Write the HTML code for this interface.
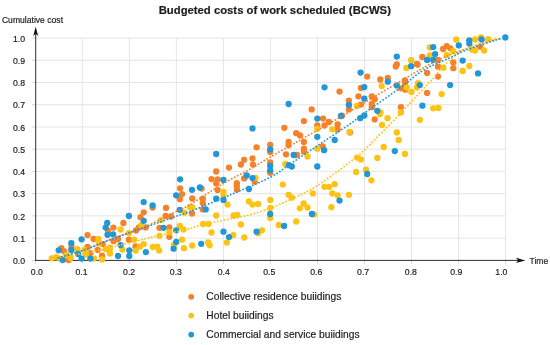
<!DOCTYPE html>
<html><head><meta charset="utf-8"><style>
html,body{margin:0;padding:0;background:#fff;}
svg{display:block}
text{font-family:"Liberation Sans",Arial,sans-serif;fill:#1c1c1c;stroke:#1c1c1c;stroke-width:0.18px}
</style></head><body>
<svg width="550" height="345" viewBox="0 0 550 345">
<rect width="550" height="345" fill="#fff"/>
<g stroke="#e2e2e2" stroke-width="0.9"><line x1="82.3" y1="38.0" x2="82.3" y2="260.4"/><line x1="35.3" y1="238.2" x2="505.6" y2="238.2"/><line x1="129.4" y1="38.0" x2="129.4" y2="260.4"/><line x1="35.3" y1="215.9" x2="505.6" y2="215.9"/><line x1="176.4" y1="38.0" x2="176.4" y2="260.4"/><line x1="35.3" y1="193.7" x2="505.6" y2="193.7"/><line x1="223.4" y1="38.0" x2="223.4" y2="260.4"/><line x1="35.3" y1="171.4" x2="505.6" y2="171.4"/><line x1="270.4" y1="38.0" x2="270.4" y2="260.4"/><line x1="35.3" y1="149.2" x2="505.6" y2="149.2"/><line x1="317.5" y1="38.0" x2="317.5" y2="260.4"/><line x1="35.3" y1="127.0" x2="505.6" y2="127.0"/><line x1="364.5" y1="38.0" x2="364.5" y2="260.4"/><line x1="35.3" y1="104.7" x2="505.6" y2="104.7"/><line x1="411.5" y1="38.0" x2="411.5" y2="260.4"/><line x1="35.3" y1="82.5" x2="505.6" y2="82.5"/><line x1="458.6" y1="38.0" x2="458.6" y2="260.4"/><line x1="35.3" y1="60.2" x2="505.6" y2="60.2"/><line x1="505.6" y1="38.0" x2="505.6" y2="260.4"/><line x1="35.3" y1="38.0" x2="505.6" y2="38.0"/></g>
<g stroke="#d0d0d0" stroke-width="0.9"><line x1="31.799999999999997" y1="260.4" x2="35.3" y2="260.4"/><line x1="35.3" y1="260.4" x2="35.3" y2="263.9"/><line x1="31.799999999999997" y1="238.2" x2="35.3" y2="238.2"/><line x1="82.3" y1="260.4" x2="82.3" y2="263.9"/><line x1="31.799999999999997" y1="215.9" x2="35.3" y2="215.9"/><line x1="129.4" y1="260.4" x2="129.4" y2="263.9"/><line x1="31.799999999999997" y1="193.7" x2="35.3" y2="193.7"/><line x1="176.4" y1="260.4" x2="176.4" y2="263.9"/><line x1="31.799999999999997" y1="171.4" x2="35.3" y2="171.4"/><line x1="223.4" y1="260.4" x2="223.4" y2="263.9"/><line x1="31.799999999999997" y1="149.2" x2="35.3" y2="149.2"/><line x1="270.4" y1="260.4" x2="270.4" y2="263.9"/><line x1="31.799999999999997" y1="127.0" x2="35.3" y2="127.0"/><line x1="317.5" y1="260.4" x2="317.5" y2="263.9"/><line x1="31.799999999999997" y1="104.7" x2="35.3" y2="104.7"/><line x1="364.5" y1="260.4" x2="364.5" y2="263.9"/><line x1="31.799999999999997" y1="82.5" x2="35.3" y2="82.5"/><line x1="411.5" y1="260.4" x2="411.5" y2="263.9"/><line x1="31.799999999999997" y1="60.2" x2="35.3" y2="60.2"/><line x1="458.6" y1="260.4" x2="458.6" y2="263.9"/><line x1="31.799999999999997" y1="38.0" x2="35.3" y2="38.0"/><line x1="505.6" y1="260.4" x2="505.6" y2="263.9"/></g>
<g stroke="#222" stroke-width="0.95" fill="none"><line x1="35.7" y1="260.84999999999997" x2="35.7" y2="33"/><line x1="35.25" y1="260.4" x2="519" y2="260.4"/></g>
<path d="M35.7 26.8 L38.2 36 L35.7 33.8 L33.2 36 Z" fill="#111"/>
<path d="M525.3 260.4 L516 257.79999999999995 L518.2 260.4 L516 263.0 Z" fill="#111"/>
<g fill="#f5822a"><circle cx="87.5" cy="235.1" r="3.15"/><circle cx="93.6" cy="239.0" r="3.15"/><circle cx="61.3" cy="248.2" r="3.15"/><circle cx="64.2" cy="251.4" r="3.15"/><circle cx="87.5" cy="247.0" r="3.15"/><circle cx="71.5" cy="246.3" r="3.15"/><circle cx="102.7" cy="244.1" r="3.15"/><circle cx="97.6" cy="249.9" r="3.15"/><circle cx="90.4" cy="253.1" r="3.15"/><circle cx="102.0" cy="255.7" r="3.15"/><circle cx="68.5" cy="260.0" r="3.15"/><circle cx="108.0" cy="231.0" r="3.15"/><circle cx="123.4" cy="223.0" r="3.15"/><circle cx="113.4" cy="227.6" r="3.15"/><circle cx="140.5" cy="217.2" r="3.15"/><circle cx="136.0" cy="230.5" r="3.15"/><circle cx="145.6" cy="227.4" r="3.15"/><circle cx="139.0" cy="227.4" r="3.15"/><circle cx="128.9" cy="239.7" r="3.15"/><circle cx="113.6" cy="241.2" r="3.15"/><circle cx="118.0" cy="239.0" r="3.15"/><circle cx="135.5" cy="246.3" r="3.15"/><circle cx="159.5" cy="227.8" r="3.15"/><circle cx="169.3" cy="227.4" r="3.15"/><circle cx="169.3" cy="236.8" r="3.15"/><circle cx="165.6" cy="216.0" r="3.15"/><circle cx="171.0" cy="216.5" r="3.15"/><circle cx="180.1" cy="188.3" r="3.15"/><circle cx="182.0" cy="194.1" r="3.15"/><circle cx="179.8" cy="199.2" r="3.15"/><circle cx="166.0" cy="207.9" r="3.15"/><circle cx="152.6" cy="207.5" r="3.15"/><circle cx="143.7" cy="212.3" r="3.15"/><circle cx="216.2" cy="171.5" r="3.15"/><circle cx="229.0" cy="167.6" r="3.15"/><circle cx="240.9" cy="164.5" r="3.15"/><circle cx="253.0" cy="164.5" r="3.15"/><circle cx="211.5" cy="179.1" r="3.15"/><circle cx="217.6" cy="179.5" r="3.15"/><circle cx="216.2" cy="183.6" r="3.15"/><circle cx="217.6" cy="190.0" r="3.15"/><circle cx="201.6" cy="188.6" r="3.15"/><circle cx="192.2" cy="198.5" r="3.15"/><circle cx="202.8" cy="198.7" r="3.15"/><circle cx="202.8" cy="203.1" r="3.15"/><circle cx="202.8" cy="209.4" r="3.15"/><circle cx="236.8" cy="183.2" r="3.15"/><circle cx="236.8" cy="186.1" r="3.15"/><circle cx="236.8" cy="189.4" r="3.15"/><circle cx="244.1" cy="178.4" r="3.15"/><circle cx="254.7" cy="181.7" r="3.15"/><circle cx="192.0" cy="213.5" r="3.15"/><circle cx="256.6" cy="147.3" r="3.15"/><circle cx="244.1" cy="159.8" r="3.15"/><circle cx="252.5" cy="158.3" r="3.15"/><circle cx="270.2" cy="144.8" r="3.15"/><circle cx="270.2" cy="152.0" r="3.15"/><circle cx="270.2" cy="162.4" r="3.15"/><circle cx="270.2" cy="172.8" r="3.15"/><circle cx="303.9" cy="121.1" r="3.15"/><circle cx="284.3" cy="127.8" r="3.15"/><circle cx="296.2" cy="133.2" r="3.15"/><circle cx="300.1" cy="135.4" r="3.15"/><circle cx="288.6" cy="141.9" r="3.15"/><circle cx="288.6" cy="145.3" r="3.15"/><circle cx="303.9" cy="141.9" r="3.15"/><circle cx="303.9" cy="148.7" r="3.15"/><circle cx="303.9" cy="151.7" r="3.15"/><circle cx="286.0" cy="154.3" r="3.15"/><circle cx="296.9" cy="155.0" r="3.15"/><circle cx="323.1" cy="118.6" r="3.15"/><circle cx="328.9" cy="122.0" r="3.15"/><circle cx="324.5" cy="125.5" r="3.15"/><circle cx="317.3" cy="125.5" r="3.15"/><circle cx="337.6" cy="124.5" r="3.15"/><circle cx="337.6" cy="129.5" r="3.15"/><circle cx="322.7" cy="146.3" r="3.15"/><circle cx="342.0" cy="115.7" r="3.15"/><circle cx="339.5" cy="91.6" r="3.15"/><circle cx="311.7" cy="109.4" r="3.15"/><circle cx="348.9" cy="100.6" r="3.15"/><circle cx="348.9" cy="109.4" r="3.15"/><circle cx="374.7" cy="119.4" r="3.15"/><circle cx="350.0" cy="132.5" r="3.15"/><circle cx="367.2" cy="76.6" r="3.15"/><circle cx="380.3" cy="79.5" r="3.15"/><circle cx="387.8" cy="77.8" r="3.15"/><circle cx="395.8" cy="66.5" r="3.15"/><circle cx="360.9" cy="88.0" r="3.15"/><circle cx="358.4" cy="96.3" r="3.15"/><circle cx="360.9" cy="104.6" r="3.15"/><circle cx="371.8" cy="96.3" r="3.15"/><circle cx="374.7" cy="99.2" r="3.15"/><circle cx="371.8" cy="104.0" r="3.15"/><circle cx="371.8" cy="107.2" r="3.15"/><circle cx="405.0" cy="80.3" r="3.15"/><circle cx="405.0" cy="83.5" r="3.15"/><circle cx="400.9" cy="88.3" r="3.15"/><circle cx="405.3" cy="89.7" r="3.15"/><circle cx="400.9" cy="107.2" r="3.15"/><circle cx="427.1" cy="73.0" r="3.15"/><circle cx="427.1" cy="92.9" r="3.15"/><circle cx="417.6" cy="64.5" r="3.15"/><circle cx="396.8" cy="64.3" r="3.15"/><circle cx="416.9" cy="64.0" r="3.15"/><circle cx="422.3" cy="57.0" r="3.15"/><circle cx="438.0" cy="76.6" r="3.15"/><circle cx="453.3" cy="68.2" r="3.15"/><circle cx="438.0" cy="66.7" r="3.15"/><circle cx="443.1" cy="49.0" r="3.15"/><circle cx="446.7" cy="46.1" r="3.15"/><circle cx="450.4" cy="48.3" r="3.15"/><circle cx="438.0" cy="59.9" r="3.15"/><circle cx="453.3" cy="62.5" r="3.15"/><circle cx="480.2" cy="46.8" r="3.15"/></g>
<g fill="#fbc313"><circle cx="51.8" cy="258.3" r="3.15"/><circle cx="56.2" cy="257.2" r="3.15"/><circle cx="59.8" cy="258.6" r="3.15"/><circle cx="66.4" cy="255.0" r="3.15"/><circle cx="70.7" cy="257.9" r="3.15"/><circle cx="77.3" cy="249.2" r="3.15"/><circle cx="84.5" cy="249.9" r="3.15"/><circle cx="86.0" cy="254.3" r="3.15"/><circle cx="98.4" cy="239.0" r="3.15"/><circle cx="99.0" cy="243.4" r="3.15"/><circle cx="94.0" cy="258.6" r="3.15"/><circle cx="102.0" cy="259.4" r="3.15"/><circle cx="105.6" cy="249.2" r="3.15"/><circle cx="109.3" cy="250.0" r="3.15"/><circle cx="120.6" cy="229.5" r="3.15"/><circle cx="128.9" cy="233.2" r="3.15"/><circle cx="134.0" cy="239.7" r="3.15"/><circle cx="110.0" cy="247.7" r="3.15"/><circle cx="110.0" cy="253.5" r="3.15"/><circle cx="122.4" cy="249.6" r="3.15"/><circle cx="135.5" cy="250.6" r="3.15"/><circle cx="139.8" cy="246.7" r="3.15"/><circle cx="143.7" cy="244.1" r="3.15"/><circle cx="141.3" cy="225.2" r="3.15"/><circle cx="152.9" cy="247.0" r="3.15"/><circle cx="157.3" cy="246.7" r="3.15"/><circle cx="159.2" cy="250.6" r="3.15"/><circle cx="159.5" cy="235.8" r="3.15"/><circle cx="160.9" cy="220.1" r="3.15"/><circle cx="169.3" cy="232.2" r="3.15"/><circle cx="179.8" cy="225.9" r="3.15"/><circle cx="183.5" cy="229.5" r="3.15"/><circle cx="182.0" cy="239.7" r="3.15"/><circle cx="183.9" cy="248.2" r="3.15"/><circle cx="174.0" cy="244.8" r="3.15"/><circle cx="184.5" cy="212.7" r="3.15"/><circle cx="190.0" cy="207.0" r="3.15"/><circle cx="192.2" cy="245.5" r="3.15"/><circle cx="203.1" cy="224.0" r="3.15"/><circle cx="208.6" cy="224.0" r="3.15"/><circle cx="211.5" cy="232.5" r="3.15"/><circle cx="208.2" cy="242.3" r="3.15"/><circle cx="209.6" cy="245.3" r="3.15"/><circle cx="216.2" cy="215.5" r="3.15"/><circle cx="233.3" cy="235.1" r="3.15"/><circle cx="226.8" cy="242.6" r="3.15"/><circle cx="240.9" cy="224.5" r="3.15"/><circle cx="244.3" cy="237.5" r="3.15"/><circle cx="262.0" cy="230.3" r="3.15"/><circle cx="258.0" cy="233.2" r="3.15"/><circle cx="233.6" cy="215.5" r="3.15"/><circle cx="237.3" cy="215.0" r="3.15"/><circle cx="270.2" cy="218.0" r="3.15"/><circle cx="223.5" cy="191.9" r="3.15"/><circle cx="223.5" cy="195.5" r="3.15"/><circle cx="227.5" cy="204.6" r="3.15"/><circle cx="192.2" cy="207.2" r="3.15"/><circle cx="248.9" cy="201.4" r="3.15"/><circle cx="252.5" cy="204.6" r="3.15"/><circle cx="258.1" cy="204.0" r="3.15"/><circle cx="255.5" cy="177.8" r="3.15"/><circle cx="270.3" cy="199.9" r="3.15"/><circle cx="270.3" cy="207.9" r="3.15"/><circle cx="278.7" cy="224.9" r="3.15"/><circle cx="296.2" cy="221.5" r="3.15"/><circle cx="314.0" cy="214.5" r="3.15"/><circle cx="282.8" cy="184.6" r="3.15"/><circle cx="288.6" cy="194.8" r="3.15"/><circle cx="291.8" cy="197.7" r="3.15"/><circle cx="312.9" cy="193.4" r="3.15"/><circle cx="303.7" cy="203.5" r="3.15"/><circle cx="299.8" cy="208.3" r="3.15"/><circle cx="307.5" cy="207.5" r="3.15"/><circle cx="324.5" cy="186.8" r="3.15"/><circle cx="329.3" cy="186.8" r="3.15"/><circle cx="334.7" cy="184.2" r="3.15"/><circle cx="332.3" cy="193.4" r="3.15"/><circle cx="337.6" cy="195.3" r="3.15"/><circle cx="331.4" cy="207.2" r="3.15"/><circle cx="349.0" cy="194.8" r="3.15"/><circle cx="285.3" cy="164.0" r="3.15"/><circle cx="317.3" cy="128.8" r="3.15"/><circle cx="332.3" cy="129.3" r="3.15"/><circle cx="317.3" cy="148.7" r="3.15"/><circle cx="307.5" cy="156.5" r="3.15"/><circle cx="349.5" cy="132.0" r="3.15"/><circle cx="356.1" cy="172.0" r="3.15"/><circle cx="366.0" cy="169.7" r="3.15"/><circle cx="371.4" cy="180.3" r="3.15"/><circle cx="387.5" cy="118.2" r="3.15"/><circle cx="382.0" cy="124.9" r="3.15"/><circle cx="396.8" cy="132.5" r="3.15"/><circle cx="398.7" cy="140.0" r="3.15"/><circle cx="383.7" cy="147.0" r="3.15"/><circle cx="405.0" cy="154.0" r="3.15"/><circle cx="377.3" cy="157.9" r="3.15"/><circle cx="357.0" cy="157.6" r="3.15"/><circle cx="360.9" cy="159.4" r="3.15"/><circle cx="419.8" cy="119.8" r="3.15"/><circle cx="379.8" cy="114.0" r="3.15"/><circle cx="400.9" cy="112.5" r="3.15"/><circle cx="381.7" cy="86.1" r="3.15"/><circle cx="357.0" cy="106.0" r="3.15"/><circle cx="406.4" cy="68.0" r="3.15"/><circle cx="406.7" cy="87.5" r="3.15"/><circle cx="411.4" cy="91.9" r="3.15"/><circle cx="418.1" cy="83.2" r="3.15"/><circle cx="416.9" cy="87.5" r="3.15"/><circle cx="380.5" cy="112.3" r="3.15"/><circle cx="411.1" cy="60.2" r="3.15"/><circle cx="429.8" cy="47.5" r="3.15"/><circle cx="429.8" cy="55.5" r="3.15"/><circle cx="462.7" cy="71.1" r="3.15"/><circle cx="469.3" cy="66.0" r="3.15"/><circle cx="441.6" cy="94.1" r="3.15"/><circle cx="433.2" cy="108.3" r="3.15"/><circle cx="438.4" cy="107.9" r="3.15"/><circle cx="443.4" cy="67.7" r="3.15"/><circle cx="456.2" cy="39.5" r="3.15"/><circle cx="453.0" cy="50.9" r="3.15"/><circle cx="446.7" cy="54.8" r="3.15"/><circle cx="475.1" cy="39.5" r="3.15"/><circle cx="480.9" cy="37.4" r="3.15"/><circle cx="488.2" cy="39.1" r="3.15"/><circle cx="472.2" cy="49.7" r="3.15"/><circle cx="475.1" cy="50.5" r="3.15"/><circle cx="484.1" cy="50.5" r="3.15"/><circle cx="462.7" cy="70.8" r="3.15"/></g>
<g fill="#2297d6"><circle cx="58.7" cy="250.3" r="3.15"/><circle cx="71.3" cy="243.1" r="3.15"/><circle cx="71.3" cy="249.9" r="3.15"/><circle cx="81.6" cy="239.3" r="3.15"/><circle cx="62.7" cy="260.1" r="3.15"/><circle cx="81.6" cy="258.6" r="3.15"/><circle cx="78.0" cy="254.0" r="3.15"/><circle cx="90.4" cy="258.6" r="3.15"/><circle cx="107.2" cy="223.0" r="3.15"/><circle cx="105.7" cy="227.6" r="3.15"/><circle cx="107.5" cy="234.8" r="3.15"/><circle cx="113.1" cy="234.3" r="3.15"/><circle cx="128.9" cy="216.0" r="3.15"/><circle cx="143.7" cy="220.8" r="3.15"/><circle cx="120.6" cy="245.1" r="3.15"/><circle cx="118.0" cy="256.0" r="3.15"/><circle cx="129.3" cy="250.3" r="3.15"/><circle cx="129.3" cy="256.0" r="3.15"/><circle cx="145.9" cy="252.1" r="3.15"/><circle cx="163.5" cy="227.8" r="3.15"/><circle cx="176.2" cy="230.3" r="3.15"/><circle cx="176.2" cy="241.9" r="3.15"/><circle cx="173.6" cy="248.7" r="3.15"/><circle cx="180.1" cy="179.3" r="3.15"/><circle cx="176.2" cy="195.3" r="3.15"/><circle cx="143.7" cy="202.1" r="3.15"/><circle cx="152.6" cy="205.3" r="3.15"/><circle cx="179.8" cy="209.8" r="3.15"/><circle cx="192.0" cy="189.8" r="3.15"/><circle cx="223.5" cy="231.7" r="3.15"/><circle cx="229.0" cy="237.1" r="3.15"/><circle cx="201.2" cy="243.8" r="3.15"/><circle cx="256.6" cy="231.7" r="3.15"/><circle cx="199.9" cy="187.5" r="3.15"/><circle cx="205.7" cy="209.4" r="3.15"/><circle cx="216.2" cy="198.7" r="3.15"/><circle cx="223.5" cy="199.9" r="3.15"/><circle cx="223.5" cy="180.0" r="3.15"/><circle cx="246.7" cy="175.5" r="3.15"/><circle cx="252.5" cy="178.1" r="3.15"/><circle cx="248.9" cy="189.0" r="3.15"/><circle cx="270.2" cy="165.8" r="3.15"/><circle cx="270.2" cy="170.3" r="3.15"/><circle cx="270.2" cy="214.0" r="3.15"/><circle cx="252.5" cy="128.4" r="3.15"/><circle cx="216.2" cy="154.0" r="3.15"/><circle cx="270.2" cy="149.4" r="3.15"/><circle cx="284.1" cy="225.9" r="3.15"/><circle cx="311.9" cy="214.0" r="3.15"/><circle cx="288.9" cy="165.2" r="3.15"/><circle cx="291.8" cy="166.5" r="3.15"/><circle cx="317.3" cy="166.5" r="3.15"/><circle cx="339.5" cy="200.6" r="3.15"/><circle cx="317.3" cy="118.6" r="3.15"/><circle cx="317.3" cy="136.8" r="3.15"/><circle cx="334.7" cy="140.0" r="3.15"/><circle cx="324.1" cy="150.2" r="3.15"/><circle cx="293.7" cy="155.0" r="3.15"/><circle cx="341.0" cy="116.0" r="3.15"/><circle cx="324.5" cy="87.3" r="3.15"/><circle cx="288.6" cy="104.0" r="3.15"/><circle cx="348.9" cy="105.0" r="3.15"/><circle cx="367.2" cy="174.0" r="3.15"/><circle cx="360.2" cy="118.2" r="3.15"/><circle cx="364.3" cy="115.5" r="3.15"/><circle cx="394.8" cy="151.1" r="3.15"/><circle cx="360.6" cy="72.6" r="3.15"/><circle cx="364.3" cy="87.1" r="3.15"/><circle cx="364.3" cy="98.7" r="3.15"/><circle cx="377.3" cy="110.8" r="3.15"/><circle cx="387.8" cy="81.7" r="3.15"/><circle cx="396.8" cy="85.4" r="3.15"/><circle cx="411.1" cy="66.2" r="3.15"/><circle cx="419.8" cy="85.1" r="3.15"/><circle cx="422.4" cy="105.7" r="3.15"/><circle cx="396.8" cy="56.6" r="3.15"/><circle cx="427.1" cy="59.9" r="3.15"/><circle cx="478.0" cy="73.4" r="3.15"/><circle cx="450.1" cy="85.1" r="3.15"/><circle cx="505.3" cy="37.4" r="3.15"/><circle cx="433.2" cy="47.1" r="3.15"/><circle cx="435.1" cy="54.1" r="3.15"/><circle cx="433.2" cy="59.9" r="3.15"/><circle cx="458.8" cy="45.4" r="3.15"/><circle cx="469.3" cy="40.3" r="3.15"/><circle cx="469.3" cy="43.6" r="3.15"/><circle cx="481.6" cy="39.5" r="3.15"/><circle cx="462.7" cy="60.6" r="3.15"/></g>
<path d="M56.0 258.5 C59.7 257.4 69.0 255.1 78.0 252.0 C87.0 248.9 101.3 243.1 110.0 239.8 C118.7 236.5 123.8 234.6 130.0 232.3 C136.2 230.0 140.2 229.2 147.3 226.0 C154.4 222.8 166.0 216.5 172.7 213.2 C179.4 209.9 183.1 208.6 187.3 206.3 C191.6 204.0 192.0 203.4 198.2 199.5 C204.3 195.6 215.4 188.2 224.2 183.0 C233.0 177.8 243.5 172.9 251.1 168.6 C258.7 164.3 255.0 165.9 270.0 157.2 C285.0 148.5 323.4 126.9 341.3 116.5 C359.2 106.1 365.3 102.1 377.6 94.8 C389.9 87.5 406.7 77.4 415.0 72.6 C423.3 67.8 422.9 68.0 427.2 65.7 C431.5 63.4 436.6 60.7 441.0 58.7 C445.4 56.7 448.9 55.2 453.3 53.5 C457.7 51.8 461.8 50.2 467.2 48.3 C472.6 46.4 480.4 43.7 486.0 42.0 C491.6 40.3 498.1 38.8 500.5 38.2" fill="none" stroke="#f5822a" stroke-width="1.8" stroke-linecap="round" stroke-dasharray="0.1 3.3"/>
<path d="M52.0 259.0 C56.7 258.2 72.3 255.4 80.0 254.0 C87.7 252.6 91.2 252.1 98.2 250.5 C105.2 248.9 113.9 246.6 121.8 244.7 C129.7 242.8 138.5 240.5 145.5 238.8 C152.5 237.1 156.8 235.9 163.6 234.3 C170.4 232.8 180.1 231.1 186.5 229.5 C192.9 227.9 195.6 226.3 201.8 224.8 C208.0 223.3 216.3 221.8 223.6 220.3 C230.9 218.8 238.2 217.7 245.5 215.9 C252.8 214.1 261.1 211.6 267.3 209.4 C273.5 207.2 277.8 205.1 282.6 203.0 C287.4 200.9 292.5 198.6 296.3 196.8 C300.1 195.0 301.9 194.2 305.4 192.4 C308.9 190.6 312.5 188.7 317.2 185.7 C321.9 182.7 329.8 176.9 333.7 174.2 C337.6 171.4 337.0 172.0 340.7 169.2 C344.4 166.4 352.4 160.1 356.0 157.3 C359.6 154.5 359.8 154.3 362.0 152.3 C364.2 150.3 366.4 148.1 369.0 145.5 C371.6 142.9 372.6 141.8 377.8 136.5 C383.0 131.2 392.1 122.3 400.0 114.0 C407.9 105.7 420.0 92.2 425.4 86.5 C430.8 80.8 429.8 82.5 432.4 79.6 C435.0 76.7 437.7 72.7 441.0 69.1 C444.3 65.5 448.9 60.8 452.4 57.8 C455.9 54.8 458.7 52.8 462.0 50.9 C465.3 49.0 468.1 48.1 472.4 46.5 C476.7 44.9 483.3 42.8 488.0 41.5 C492.7 40.2 498.4 39.0 500.5 38.5" fill="none" stroke="#fbc313" stroke-width="1.8" stroke-linecap="round" stroke-dasharray="0.1 3.3"/>
<path d="M58.4 257.9 C61.7 256.9 72.1 254.0 78.0 252.1 C83.9 250.2 88.7 248.4 94.0 246.3 C99.3 244.2 101.3 242.9 110.0 239.7 C118.7 236.5 134.4 231.1 146.0 227.0 C157.6 222.9 172.5 217.6 179.8 215.0 C187.1 212.4 181.6 214.8 190.0 211.5 C198.4 208.2 216.7 200.7 230.0 195.0 C243.3 189.3 259.7 182.7 270.0 177.4 C280.3 172.1 283.5 168.6 291.8 163.0 C300.1 157.4 310.3 150.5 320.0 144.0 C329.7 137.5 342.6 129.2 350.0 124.0 C357.4 118.8 356.2 119.0 364.5 113.0 C372.8 107.0 391.6 94.2 400.0 88.0 C408.4 81.8 410.8 79.2 415.0 76.1 C419.2 72.9 421.9 71.1 425.4 69.1 C428.9 67.1 431.8 65.8 435.9 63.9 C440.0 62.0 445.4 59.8 449.8 57.8 C454.2 55.8 457.9 53.4 462.0 51.7 C466.1 50.0 469.4 49.0 474.1 47.4 C478.8 45.8 485.6 43.5 490.0 42.0 C494.4 40.5 498.8 39.2 500.5 38.7" fill="none" stroke="#2297d6" stroke-width="1.8" stroke-linecap="round" stroke-dasharray="0.1 3.3"/>

<g font-size="8.7"><text x="25.1" y="264.2" text-anchor="end">0.0</text><text x="36.9" y="274.5" text-anchor="middle">0.0</text><text x="25.1" y="241.9" text-anchor="end">0.1</text><text x="81.5" y="274.5" text-anchor="middle">0.1</text><text x="25.1" y="219.7" text-anchor="end">0.2</text><text x="129.1" y="274.5" text-anchor="middle">0.2</text><text x="25.1" y="197.4" text-anchor="end">0.3</text><text x="175.9" y="274.5" text-anchor="middle">0.3</text><text x="25.1" y="175.1" text-anchor="end">0.4</text><text x="223.7" y="274.5" text-anchor="middle">0.4</text><text x="25.1" y="152.8" text-anchor="end">0.5</text><text x="269.2" y="274.5" text-anchor="middle">0.5</text><text x="25.1" y="130.6" text-anchor="end">0.6</text><text x="316.3" y="274.5" text-anchor="middle">0.6</text><text x="25.1" y="108.3" text-anchor="end">0.7</text><text x="363.1" y="274.5" text-anchor="middle">0.7</text><text x="25.1" y="86.0" text-anchor="end">0.8</text><text x="410.9" y="274.5" text-anchor="middle">0.8</text><text x="25.1" y="63.8" text-anchor="end">0.9</text><text x="456.3" y="274.5" text-anchor="middle">0.9</text><text x="25.1" y="41.5" text-anchor="end">1.0</text><text x="501.4" y="274.5" text-anchor="middle">1.0</text></g>
<text x="1.9" y="22.8" font-size="8.6">Cumulative cost</text>
<text x="529.6" y="263.8" font-size="8.5">Time</text>
<text x="274.8" y="13.9" font-size="11.3" font-weight="bold" text-anchor="middle" fill="#111">Budgeted costs of work scheduled (BCWS)</text>
<circle cx="191.2" cy="296.8" r="2.9" fill="#f5822a"/><text x="206.3" y="300.2" font-size="10.25">Collective residence buiidings</text>
<circle cx="191.2" cy="315.6" r="2.9" fill="#fbc313"/><text x="206.3" y="319.2" font-size="10.25">Hotel buiidings</text>
<circle cx="191.2" cy="334.6" r="2.9" fill="#2297d6"/><text x="206.3" y="338.3" font-size="10.25">Commercial and service buiidings</text>
</svg></body></html>
